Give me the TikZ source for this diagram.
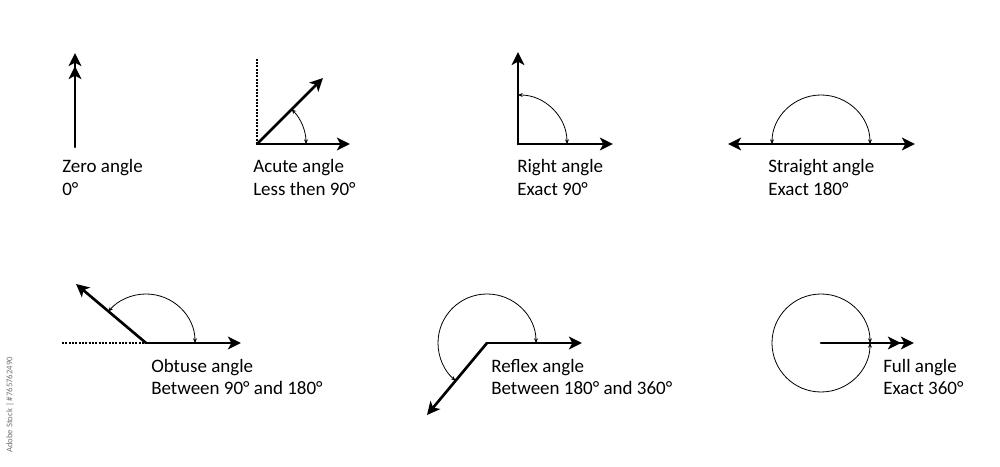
\documentclass[tikz,border=0pt]{standalone}
\usepackage{fontspec}
\setmainfont{Carlito}
\usetikzlibrary{arrows.meta,calc}
\begin{document}
\begin{tikzpicture}[x=0.75pt,y=0.75pt,
  head/.tip={Stealth[length=9.75pt,width=9.5pt,inset=2.5pt]},
  ray/.style={line width=2pt,line cap=round,-{head}},
  dray/.style={line width=2pt,line cap=round,-{head[]head[]}},
  bray/.style={line width=2pt,{head}-{head}},
  dotside/.style={line width=1.5pt,dash pattern=on 1.5pt off 1pt},
  angarc/.style={line width=0.6pt,{Stealth[length=3.5pt,width=3pt]}-{Stealth[length=3.5pt,width=3pt]}},
  lbl/.style={anchor=base west,inner sep=0pt,font=\fontsize{14.25}{17}\selectfont}]
\fill[white] (0,0) rectangle (1000,467);
\useasboundingbox (0,0) rectangle (1000,467);

% Zero angle
\coordinate (zO) at (75,320);
\coordinate (zT) at (75,414);
\draw[dray] (zO) -- (zT);
\node[lbl] (z1) at (62,294) {Zero angle};
\node[lbl] (z2) at (62,271) {0°};

% Acute angle
\coordinate (aO) at (257,323);
\coordinate (aH) at (350,323);
\coordinate (aD) at (323,389);
\coordinate (aV) at (257,408);
\draw[dotside] (aO) -- (aV);
\draw[ray] (aO) -- (aH);
\draw[ray] (aO) -- (aD);
\draw[angarc] ($(aO)+(0:49)$) arc[start angle=0,end angle=45,radius=49];
\node[lbl] (a1) at (253,294) {Acute angle};
\node[lbl] (a2) at (253,271) {Less then 90°};

% Right angle
\coordinate (rO) at (518,323);
\coordinate (rH) at (613,323);
\coordinate (rV) at (518,415);
\draw[ray] (rO) -- (rH);
\draw[ray] (rO) -- (rV);
\draw[angarc] ($(rO)+(0:49)$) arc[start angle=0,end angle=90,radius=49];
\node[lbl] (r1) at (517,294) {Right angle};
\node[lbl] (r2) at (517,271) {Exact 90°};

% Straight angle
\coordinate (sO) at (821,323);
\coordinate (sL) at (728,323);
\coordinate (sR) at (915,323);
\draw[bray] (sL) -- (sR);
\draw[angarc] ($(sO)+(0:49)$) arc[start angle=0,end angle=180,radius=49];
\node[lbl] (s1) at (768,294) {Straight angle};
\node[lbl] (s2) at (768,271) {Exact 180°};

% Obtuse angle
\coordinate (oO) at (146,124);
\coordinate (oH) at (241,124);
\coordinate (oL) at (62,124);
\coordinate (oD) at (76,183);
\draw[dotside] (oL) -- (oO);
\draw[ray] (oO) -- (oH);
\draw[ray] (oO) -- (oD);
\draw[angarc] ($(oO)+(0:49)$) arc[start angle=0,end angle=140,radius=49];
\node[lbl] (o1) at (151,94) {Obtuse angle};
\node[lbl] (o2) at (151,72) {Between 90° and 180°};

% Reflex angle
\coordinate (xO) at (487,124);
\coordinate (xH) at (582,124);
\coordinate (xD) at (427,52);
\draw[ray] (xO) -- (xH);
\draw[ray] (xO) -- (xD);
\draw[angarc] ($(xO)+(0:49)$) arc[start angle=0,end angle=230,radius=49];
\node[lbl] (x1) at (491,94) {Reflex angle};
\node[lbl] (x2) at (491,72) {Between 180° and 360°};

% Full angle
\coordinate (fO) at (821,124);
\coordinate (fT) at (914,124);
\draw[angarc] ($(fO)+(0:49)$) arc[start angle=0,end angle=360,radius=49];
\draw[dray] (fO) -- (fT);
\node[lbl] (f1) at (883,94) {Full angle};
\node[lbl] (f2) at (883,72) {Exact 360°};

% stock id
\node[rotate=90,inner sep=0pt,text=black!55,font=\fontsize{6.5}{8}\selectfont] (wm) at (10,62) {Adobe Stock | \#765762490};
\end{tikzpicture}
\end{document}
